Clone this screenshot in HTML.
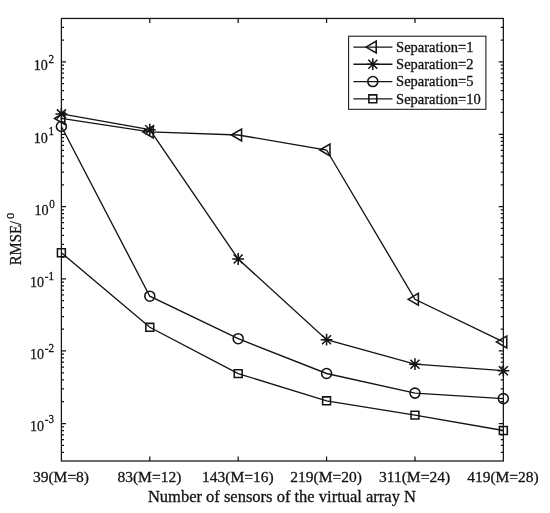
<!DOCTYPE html>
<html><head><meta charset="utf-8"><title>RMSE vs number of sensors</title>
<style>html,body{margin:0;padding:0;background:#fff}body{width:550px;height:513px;overflow:hidden}</style>
</head><body>
<svg width="550" height="513" viewBox="0 0 550 513" style="display:block">
<rect width="550" height="513" fill="#fff"/>
<g fill="none" stroke="#141414" stroke-width="1.25">
<rect x="61.4" y="18.45" width="441.95" height="442.55"/>
<path d="M149.79 461.0v-4.6M149.79 18.45v4.6M238.18 461.0v-4.6M238.18 18.45v4.6M326.57 461.0v-4.6M326.57 18.45v4.6M414.96 461.0v-4.6M414.96 18.45v4.6M61.4 452.44h2.6M503.35 452.44h-2.6M61.4 445.43h2.6M503.35 445.43h-2.6M61.4 439.70h2.6M503.35 439.70h-2.6M61.4 434.86h2.6M503.35 434.86h-2.6M61.4 430.66h2.6M503.35 430.66h-2.6M61.4 426.96h2.6M503.35 426.96h-2.6M61.4 423.65h4.6M503.35 423.65h-4.6M61.4 401.74h2.6M503.35 401.74h-2.6M61.4 388.92h2.6M503.35 388.92h-2.6M61.4 379.82h2.6M503.35 379.82h-2.6M61.4 372.76h2.6M503.35 372.76h-2.6M61.4 367.00h2.6M503.35 367.00h-2.6M61.4 362.13h2.6M503.35 362.13h-2.6M61.4 357.91h2.6M503.35 357.91h-2.6M61.4 354.18h2.6M503.35 354.18h-2.6M61.4 350.85h4.6M503.35 350.85h-4.6M61.4 329.21h2.6M503.35 329.21h-2.6M61.4 316.54h2.6M503.35 316.54h-2.6M61.4 307.56h2.6M503.35 307.56h-2.6M61.4 300.59h2.6M503.35 300.59h-2.6M61.4 294.90h2.6M503.35 294.90h-2.6M61.4 290.09h2.6M503.35 290.09h-2.6M61.4 285.92h2.6M503.35 285.92h-2.6M61.4 282.24h2.6M503.35 282.24h-2.6M61.4 278.95h4.6M503.35 278.95h-4.6M61.4 257.17h2.6M503.35 257.17h-2.6M61.4 244.43h2.6M503.35 244.43h-2.6M61.4 235.39h2.6M503.35 235.39h-2.6M61.4 228.38h2.6M503.35 228.38h-2.6M61.4 222.65h2.6M503.35 222.65h-2.6M61.4 217.81h2.6M503.35 217.81h-2.6M61.4 213.61h2.6M503.35 213.61h-2.6M61.4 209.91h2.6M503.35 209.91h-2.6M61.4 206.60h4.6M503.35 206.60h-4.6M61.4 184.82h2.6M503.35 184.82h-2.6M61.4 172.08h2.6M503.35 172.08h-2.6M61.4 163.04h2.6M503.35 163.04h-2.6M61.4 156.03h2.6M503.35 156.03h-2.6M61.4 150.30h2.6M503.35 150.30h-2.6M61.4 145.46h2.6M503.35 145.46h-2.6M61.4 141.26h2.6M503.35 141.26h-2.6M61.4 137.56h2.6M503.35 137.56h-2.6M61.4 134.25h4.6M503.35 134.25h-4.6M61.4 112.47h2.6M503.35 112.47h-2.6M61.4 99.73h2.6M503.35 99.73h-2.6M61.4 90.69h2.6M503.35 90.69h-2.6M61.4 83.68h2.6M503.35 83.68h-2.6M61.4 77.95h2.6M503.35 77.95h-2.6M61.4 73.11h2.6M503.35 73.11h-2.6M61.4 68.91h2.6M503.35 68.91h-2.6M61.4 65.21h2.6M503.35 65.21h-2.6M61.4 61.90h4.6M503.35 61.90h-4.6M61.4 40.12h2.6M503.35 40.12h-2.6M61.4 27.38h2.6M503.35 27.38h-2.6"/>
</g>
<g fill="none" stroke="#141414" stroke-width="1.35" stroke-linejoin="miter">
<polyline points="61.40,118.40 149.79,131.90 238.18,135.00 326.57,150.00 414.96,299.30 503.35,341.90"/>
<path stroke-width="1.55" d="M54.60 118.40L64.80 112.50L64.80 124.30ZM142.99 131.90L153.19 126.00L153.19 137.80ZM231.38 135.00L241.58 129.10L241.58 140.90ZM319.77 150.00L329.97 144.10L329.97 155.90ZM408.16 299.30L418.36 293.40L418.36 305.20ZM496.55 341.90L506.75 336.00L506.75 347.80Z"/>
<polyline points="61.40,113.90 149.79,129.70 238.18,259.00 326.57,339.70 414.96,364.20 503.35,370.70"/>
<path stroke-width="1.55" d="M55.50 113.90h11.8M61.40 108.00v11.8M56.90 109.40l9.0 9.0M56.90 118.40l9.0 -9.0M143.89 129.70h11.8M149.79 123.80v11.8M145.29 125.20l9.0 9.0M145.29 134.20l9.0 -9.0M232.28 259.00h11.8M238.18 253.10v11.8M233.68 254.50l9.0 9.0M233.68 263.50l9.0 -9.0M320.67 339.70h11.8M326.57 333.80v11.8M322.07 335.20l9.0 9.0M322.07 344.20l9.0 -9.0M409.06 364.20h11.8M414.96 358.30v11.8M410.46 359.70l9.0 9.0M410.46 368.70l9.0 -9.0M497.45 370.70h11.8M503.35 364.80v11.8M498.85 366.20l9.0 9.0M498.85 375.20l9.0 -9.0"/>
<polyline points="61.40,126.50 149.79,296.20 238.18,338.70 326.57,373.50 414.96,393.10 503.35,398.60"/>
<path stroke-width="1.55" d="M56.40 126.50a5.0 5.0 0 1 0 10.0 0a5.0 5.0 0 1 0 -10.0 0ZM144.79 296.20a5.0 5.0 0 1 0 10.0 0a5.0 5.0 0 1 0 -10.0 0ZM233.18 338.70a5.0 5.0 0 1 0 10.0 0a5.0 5.0 0 1 0 -10.0 0ZM321.57 373.50a5.0 5.0 0 1 0 10.0 0a5.0 5.0 0 1 0 -10.0 0ZM409.96 393.10a5.0 5.0 0 1 0 10.0 0a5.0 5.0 0 1 0 -10.0 0ZM498.35 398.60a5.0 5.0 0 1 0 10.0 0a5.0 5.0 0 1 0 -10.0 0Z"/>
<polyline points="61.40,252.75 149.79,327.30 238.18,373.60 326.57,400.80 414.96,415.10 503.35,430.50"/>
<path stroke-width="1.55" d="M57.45 248.80h7.9v7.9h-7.9ZM145.84 323.35h7.9v7.9h-7.9ZM234.23 369.65h7.9v7.9h-7.9ZM322.62 396.85h7.9v7.9h-7.9ZM411.01 411.15h7.9v7.9h-7.9ZM499.40 426.55h7.9v7.9h-7.9Z"/>
<rect x="348.6" y="36.2" width="137.30" height="73.10" fill="#fff" stroke-width="1.05"/>
<path d="M353.4 47.1H392.4"/><path stroke-width="1.55" d="M366.00 47.10L376.20 41.20L376.20 53.00Z"/>
<path d="M353.4 64.2H392.4"/><path stroke-width="1.55" d="M366.90 64.20h11.8M372.80 58.30v11.8M368.30 59.70l9.0 9.0M368.30 68.70l9.0 -9.0"/>
<path d="M353.4 81.55H392.4"/><path stroke-width="1.55" d="M367.80 81.55a5.0 5.0 0 1 0 10.0 0a5.0 5.0 0 1 0 -10.0 0Z"/>
<path d="M353.4 98.8H392.4"/><path stroke-width="1.55" d="M368.85 94.85h7.9v7.9h-7.9Z"/>
</g>
<g font-family="'Liberation Serif', 'Times New Roman', serif" fill="#141414" stroke="#141414" stroke-width="0.3">
<text x="396.1" y="52.00" font-size="14.5">Separation=1</text>
<text x="396.1" y="69.10" font-size="14.5">Separation=2</text>
<text x="396.1" y="86.45" font-size="14.5">Separation=5</text>
<text x="396.1" y="103.70" font-size="14.5">Separation=10</text>
<text x="61.00" y="481.6" font-size="15.5" text-anchor="middle">39(M=8)</text>
<text x="149.39" y="481.6" font-size="15.5" text-anchor="middle">83(M=12)</text>
<text x="237.78" y="481.6" font-size="15.5" text-anchor="middle">143(M=16)</text>
<text x="326.17" y="481.6" font-size="15.5" text-anchor="middle">219(M=20)</text>
<text x="414.56" y="481.6" font-size="15.5" text-anchor="middle">311(M=24)</text>
<text x="502.95" y="481.6" font-size="15.5" text-anchor="middle">419(M=28)</text>
<text transform="translate(54.1 430.75) scale(0.91 1)" font-size="15.5" text-anchor="end">10<tspan font-size="12.2" dx="0.8" dy="-7.3">-3</tspan></text>
<text transform="translate(54.1 359.20) scale(0.91 1)" font-size="15.5" text-anchor="end">10<tspan font-size="12.2" dx="0.8" dy="-7.3">-2</tspan></text>
<text transform="translate(54.1 287.45) scale(0.91 1)" font-size="15.5" text-anchor="end">10<tspan font-size="12.2" dx="0.8" dy="-7.3">-1</tspan></text>
<text transform="translate(54.800000000000004 214.90) scale(0.91 1)" font-size="15.5" text-anchor="end">10<tspan font-size="12.2" dx="0.8" dy="-7.3">0</tspan></text>
<text transform="translate(54.1 142.65) scale(0.91 1)" font-size="15.5" text-anchor="end">10<tspan font-size="12.2" dx="0.8" dy="-7.3">1</tspan></text>
<text transform="translate(54.1 70.00) scale(0.91 1)" font-size="15.5" text-anchor="end">10<tspan font-size="12.2" dx="0.8" dy="-7.3">2</tspan></text>
<text x="281.9" y="501.8" font-size="16.5" text-anchor="middle">Number of sensors of the virtual array N</text>
<text transform="translate(21.1 265.3) rotate(-90) scale(0.925 1)" font-size="16">RMSE/<tspan font-size="13.6" dx="2.0" dy="-7.2">o</tspan></text>
</g>
</svg>
</body></html>
